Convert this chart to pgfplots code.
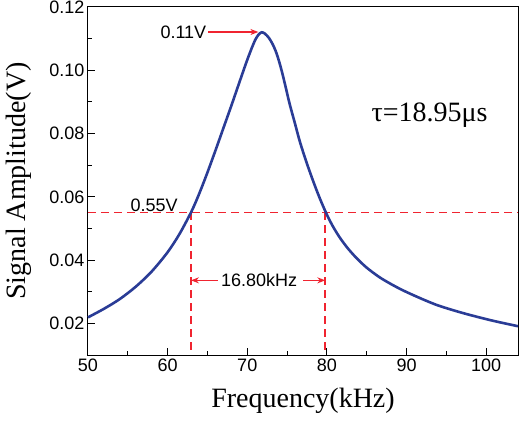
\documentclass[border=0pt]{standalone}
\usepackage{fontspec}
\setmainfont{Liberation Serif}
\newfontfamily\arial{Liberation Sans}
\usepackage{pgfplots}
\pgfplotsset{compat=1.18}
\usetikzlibrary{arrows.meta}
\definecolor{curveblue}{RGB}{42,60,150}
\definecolor{dred}{RGB}{240,36,48}
\begin{document}
\begin{tikzpicture}
\useasboundingbox (-88pt,-69pt) rectangle (432pt,355pt);
\begin{axis}[
  at={(0,0)}, anchor=south west,
  scale only axis,
  width=430pt, height=348pt,
  xmin=50, xmax=104, ymin=0.01, ymax=0.12,
  axis line style={line width=1pt, black},
  xtick={50,60,70,80,90,100},
  ytick={0.02,0.04,0.06,0.08,0.10,0.12},
  minor x tick num=1, minor y tick num=1,
  tick align=inside,
  xtick pos=left, ytick pos=left,
  major tick length=7pt, minor tick length=4pt,
  tick style={line width=1pt, black},
  /pgf/number format/assume math mode=true,
  yticklabel style={/pgf/number format/fixed, /pgf/number format/fixed zerofill, /pgf/number format/precision=2},
  ticklabel style={font=\arial\fontsize{18}{20}\selectfont},
  xlabel={Frequency(kHz)},
  ylabel={Signal Amplitude(V)},
  label style={font=\fontsize{28}{30}\selectfont},
  xlabel style={yshift=-10pt},
  ylabel style={yshift=11pt},
  clip=false,
]
% half-maximum guide lines
\addplot[draw=dred, line width=1.6pt, dash pattern=on 8pt off 5pt] coordinates {(50,0.0551) (104,0.0551)};
\addplot[draw=dred, line width=1.8pt, dash pattern=on 8pt off 5pt] coordinates {(62.93,0.0551) (62.93,0.01)};
\addplot[draw=dred, line width=1.8pt, dash pattern=on 8pt off 5pt] coordinates {(79.8,0.0551) (79.8,0.01)};
% resonance curve
\addplot[curveblue, line width=2.6pt, smooth] coordinates {
(50.0,0.0219) (52.0,0.0246) (54.0,0.0277) (56.0,0.0316) (58.0,0.0364)
(60.0,0.0425) (61.5,0.0483) (63.0,0.0554) (64.0,0.0612) (65.0,0.0677)
(66.0,0.0746) (67.0,0.0817) (68.0,0.0888) (69.0,0.0961) (69.9,0.1026)
(70.5,0.1066) (71.0,0.1096) (71.4,0.1112) (71.8,0.1120) (72.2,0.1116)
(72.7,0.1103) (73.2,0.1082) (73.7,0.1052) (74.2,0.1010) (74.7,0.0960)
(75.3,0.0896) (76.0,0.0831) (76.6,0.0775) (77.4,0.0712) (78.2,0.0655)
(79.0,0.0602) (79.9,0.0549) (80.7,0.0509) (81.6,0.0472) (82.6,0.0438)
(83.7,0.0407) (85.0,0.0376) (86.6,0.0346) (88.0,0.0325) (89.5,0.0305)
(91.5,0.0282) (93.7,0.0259) (95.8,0.0242) (97.9,0.0227) (100.9,0.0208)
(104.0,0.0191)
};
% arrows
\addplot[dred, line width=1.3pt, -{Stealth[length=8pt,width=6pt]}] coordinates {(65.1,0.1121) (71.4,0.1121)};
\addplot[dred, line width=1.3pt, -{Stealth[length=8pt,width=6pt]}] coordinates {(66.3,0.0336) (62.93,0.0336)};
\addplot[dred, line width=1.3pt, -{Stealth[length=8pt,width=6pt]}] coordinates {(77.0,0.0336) (79.8,0.0336)};
% labels
\node[font=\arial\fontsize{18}{20}\selectfont, anchor=east, inner sep=1pt] at (axis cs:65.0,0.1121) {0.11V};
\node[font=\arial\fontsize{18}{20}\selectfont] at (axis cs:58.3,0.0573) {0.55V};
\node[font=\arial\fontsize{18}{20}\selectfont] at (axis cs:71.5,0.0336) {16.80kHz};
\node[font=\fontsize{28}{30}\selectfont] at (axis cs:92.9,0.0858) {τ=18.95μs};
\end{axis}
\end{tikzpicture}
\end{document}
